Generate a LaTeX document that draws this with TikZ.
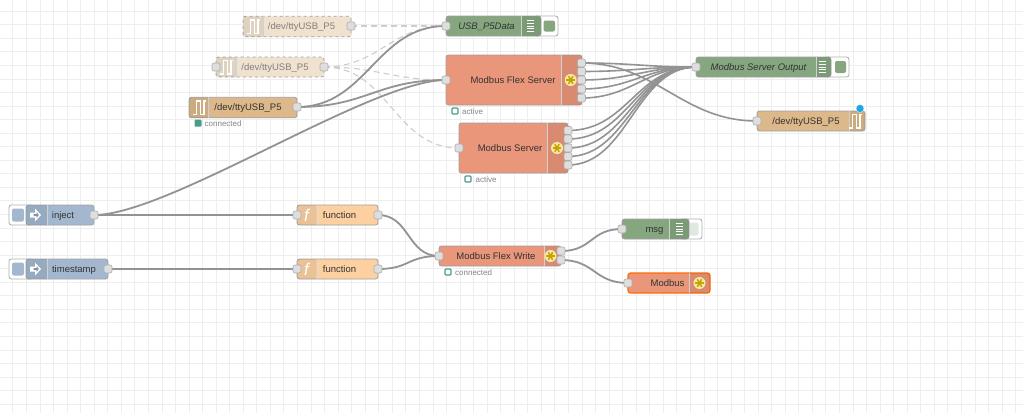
\documentclass[tikz,border=0pt]{standalone}
\usepackage{fontspec}
\setmainfont{Liberation Sans}
\usetikzlibrary{calc}
\pgfdeclarelayer{bg}
\pgfsetlayers{bg,main}
\definecolor{gridc}{HTML}{EEEEEE}
\definecolor{nodeborder}{HTML}{A0A0A0}
\definecolor{txt}{HTML}{333333}
\definecolor{serialc}{HTML}{DDB88A}
\definecolor{ghostc}{HTML}{F1E2CF}
\definecolor{debugc}{HTML}{85A67F}
\definecolor{modc}{HTML}{E9967A}
\definecolor{injc}{HTML}{A3B8CF}
\definecolor{funcc}{HTML}{FDD0A2}
\definecolor{portc}{HTML}{DEDEDE}
\definecolor{wirec}{HTML}{939393}
\definecolor{ghostwire}{HTML}{CDCDCD}
\definecolor{teal}{HTML}{4C9C8C}
\definecolor{gold}{HTML}{C9A400}
\definecolor{halo}{HTML}{F6E9A8}
\definecolor{dotc}{HTML}{1CA8E8}
\tikzset{
  x=1pt,y=-1pt,
  body/.style={draw=nodeborder,line width=.8pt,rounded corners=2.5pt,inner sep=0pt,outer sep=0pt},
  ghost/.style={body,dashed,fill=ghostc},
  lbl/.style={inner sep=0pt,anchor=base,yshift=-3.4pt,font=\fontsize{9.5}{12}\selectfont,text=txt},
  ilbl/.style={lbl,font=\fontsize{9.5}{12}\selectfont\itshape},
  ghostlbl/.style={lbl,text=black!50},
  stat/.style={inner sep=0pt,anchor=west,font=\fontsize{8}{10}\selectfont,text=black!48},
  portn/.style={draw=black!32,line width=.6pt,fill=portc,rounded corners=2pt,minimum size=8pt,inner sep=0pt,outer sep=0pt},
  wire/.style={draw=wirec,line width=1.8pt},
  gwire/.style={draw=ghostwire,line width=1.1pt,dash pattern=on 6pt off 4pt},
  btn/.style={draw=black!30,line width=.9pt,fill=white,rounded corners=2.5pt,inner sep=0pt,outer sep=0pt},
  bandfill/.style={fill=black,fill opacity=.07},
}
\newcommand{\bandright}[2]{\fill[bandfill] ([xshift=-#2pt]#1.north east) [rounded corners=2.5pt] -- (#1.north east) -- (#1.south east) [sharp corners] -- ([xshift=-#2pt]#1.south east) -- cycle;
  \draw[black!18,line width=.5pt] ([xshift=-#2pt]#1.north east) -- ([xshift=-#2pt]#1.south east);}
\newcommand{\bandleft}[2]{\fill[bandfill] ([xshift=#2pt]#1.north west) [rounded corners=2.5pt] -- (#1.north west) -- (#1.south west) [sharp corners] -- ([xshift=#2pt]#1.south west) -- cycle;
  \draw[black!18,line width=.5pt] ([xshift=#2pt]#1.north west) -- ([xshift=#2pt]#1.south west);}
\newcommand{\waveicon}[2]{\draw[white,line width=1.7pt,line join=miter] (#1-6.5,#2+7) -- (#1-2.5,#2+7) -- (#1-2.5,#2-6.5) -- (#1+1.5,#2-6.5) -- (#1+1.5,#2+7) -- (#1+5,#2+7) -- (#1+5,#2-6.5) -- (#1+7,#2-6.5);}
\newcommand{\listicon}[2]{\foreach \k in {-5.6,-2.8,0,2.8,5.6}{\draw[white,line width=.9pt] (#1-3.5,#2+\k) -- (#1+3.5,#2+\k);}}
\newcommand{\cogicon}[2]{\fill[halo] (#1,#2) circle (6pt);
  \foreach \k in {0,60,120}{\draw[gold,line width=1.5pt] ($(#1,#2)+(\k:4.4)$) -- ($(#1,#2)+(\k+180:4.4)$);}
  \fill[gold] (#1,#2) circle (2.2pt);}
\newcommand{\arrowicon}[2]{\fill[white] (#1-5,#2-2.5) -- (#1,#2-2.5) -- (#1,#2-6.5) -- (#1+6,#2) -- (#1,#2+6.5) -- (#1,#2+2.5) -- (#1-5,#2+2.5) -- cycle;
  \fill[injc!80!black] (#1-1.5,#2-1) -- (#1+1.5,#2-1) -- (#1+1.5,#2-3) -- (#1+3.8,#2) -- (#1+1.5,#2+3) -- (#1+1.5,#2+1) -- (#1-1.5,#2+1) -- cycle;}
\begin{document}
\begin{tikzpicture}
\useasboundingbox (0,0) rectangle (1023,413);
\begin{pgfonlayer}{bg}
  \fill[white] (0,0) rectangle (1023,413);
  \foreach \i in {0,...,75}{\draw[gridc,line width=.7pt] ({12.8+13.55*\i},0) -- ({12.8+13.55*\i},413);}
  \foreach \i in {0,...,30}{\draw[gridc,line width=.7pt] (0,{11.1+13.55*\i}) -- (1023,{11.1+13.55*\i});}
\end{pgfonlayer}

% ---- buttons behind nodes
\node[btn,minimum width=24pt,minimum height=20pt] (usbbtn) at (546,26) {};
\fill[debugc,rounded corners=2pt] (543.5,20.5) rectangle (555,31.5);
\node[btn,minimum width=24pt,minimum height=20pt] (outbtn) at (837,67) {};
\fill[debugc,rounded corners=2pt] (835,61) rectangle (846,73);
\node[btn,minimum width=22pt,minimum height=20pt] (msgbtn) at (691,229) {};
\fill[debugc!25,rounded corners=2pt] (689.5,222.5) rectangle (698.5,235.5);
\node[btn,minimum width=24pt,minimum height=20pt] (injbtn) at (21,215) {};
\fill[injc,rounded corners=2pt] (12,208.5) rectangle (24,221.5);
\node[btn,minimum width=24pt,minimum height=20pt] (tsbtn) at (21,269) {};
\fill[injc,rounded corners=2pt] (12,262.5) rectangle (24,275.5);

% ---- node bodies
\node[ghost,minimum width=108pt,minimum height=20.5pt] (g1) at (297,26.5) {};
\node[ghost,minimum width=108pt,minimum height=20pt] (g2) at (270,67) {};
\node[body,fill=serialc,minimum width=108pt,minimum height=20.5pt] (ser) at (243,107.5) {};
\node[body,fill=debugc,minimum width=95pt,minimum height=20pt] (usb) at (493.5,26) {};
\node[body,fill=modc,minimum width=136pt,minimum height=50pt] (flex) at (514,80) {};
\node[body,fill=modc,minimum width=109pt,minimum height=50pt] (srv) at (513.5,148) {};
\node[body,fill=debugc,minimum width=135pt,minimum height=20pt] (out) at (763.5,67) {};
\node[body,fill=serialc,minimum width=108pt,minimum height=20pt] (sout) at (811,121) {};
\node[body,fill=injc,minimum width=68pt,minimum height=20pt] (inj) at (60,215) {};
\node[body,fill=injc,minimum width=82pt,minimum height=20pt] (ts) at (67,269) {};
\node[body,fill=funcc,minimum width=81pt,minimum height=20pt] (f1) at (337.5,215) {};
\node[body,fill=funcc,minimum width=81pt,minimum height=20pt] (f2) at (337.5,269) {};
\node[body,fill=modc,minimum width=122pt,minimum height=20pt] (wr) at (500,256) {};
\node[body,fill=debugc,minimum width=67pt,minimum height=20pt] (msg) at (655.5,229) {};
\node[body,draw=orange!85!red,line width=1.2pt,fill=modc,minimum width=82pt,minimum height=20pt] (mb) at (669,283) {};

% ---- bands
\bandleft{g1}{20}\bandleft{g2}{20}\bandleft{ser}{19}
\bandright{usb}{20}\bandright{out}{15}\bandright{msg}{20}
\bandright{flex}{21}\bandright{srv}{21}\bandright{wr}{17}\bandright{mb}{21}
\bandright{sout}{16}
\bandleft{inj}{21}\bandleft{ts}{21}\bandleft{f1}{19}\bandleft{f2}{19}

% ---- icons
\waveicon{253}{26.5}\waveicon{226}{67}\waveicon{199}{107.5}\waveicon{855}{121}
\listicon{530.5}{26}\listicon{822}{67}\listicon{679}{229}
\cogicon{570.7}{80}\cogicon{557}{148}\cogicon{550.5}{256}\cogicon{699.5}{283}
\arrowicon{35}{215}\arrowicon{35}{269}
\node[inner sep=0pt,text=white,font=\fontsize{17}{17}\selectfont\itshape] (ficon1) at (306.5,215) {f};
\node[inner sep=0pt,text=white,font=\fontsize{17}{17}\selectfont\itshape] (ficon2) at (306.5,269) {f};

% ---- labels
\node[ghostlbl] (tg1) at (301.5,26.5) {/dev/ttyUSB\_P5};
\node[ghostlbl] (tg2) at (275,67) {/dev/ttyUSB\_P5};
\node[lbl] (tser) at (248,107.5) {/dev/ttyUSB\_P5};
\node[ilbl] (tusb) at (486.5,26) {USB\_P5Data};
\node[lbl] (tflex) at (513,80) {Modbus Flex Server};
\node[lbl] (tsrv) at (510,148) {Modbus Server};
\node[ilbl] (tout) at (758.5,67) {Modbus Server Output};
\node[lbl] (tsout) at (806,121) {/dev/ttyUSB\_P5};
\node[lbl] (tinj) at (63,215) {inject};
\node[lbl] (tts) at (74,269) {timestamp};
\node[lbl] (tf1) at (339.5,215) {function};
\node[lbl] (tf2) at (339.5,269) {function};
\node[lbl] (twr) at (496,256) {Modbus Flex Write};
\node[lbl] (tmsg) at (654.5,229) {msg};
\node[lbl] (tmb) at (667.5,283) {Modbus};

% ---- status
\fill[teal,rounded corners=1pt] (194.5,119.5) rectangle (201.5,126.5);
\node[stat] (sser) at (204.5,123.5) {connected};
\draw[teal,line width=1.1pt,fill=white,rounded corners=1pt] (452,108) rectangle (458,114);
\node[stat] (sflex) at (462,111.5) {active};
\draw[teal,line width=1.1pt,fill=white,rounded corners=1pt] (465,176) rectangle (471,182);
\node[stat] (ssrv) at (475.5,179.5) {active};
\draw[teal,line width=1.1pt,fill=white,rounded corners=1pt] (445,269) rectangle (451,275);
\node[stat] (swr) at (455,272.5) {connected};

% ---- deploy-pending dot
\node[circle,fill=dotc,draw=white,line width=.3pt,minimum size=8pt,inner sep=0pt] (dot) at (860,108.5) {};

% ---- ports
\node[portn] (pg1o) at (351,26) {};
\node[portn] (pg2i) at (216,67) {};
\node[portn] (pg2o) at (324,67) {};
\node[portn] (pso) at (297,107) {};
\node[portn] (pusb) at (446,26) {};
\node[portn] (pfi) at (446,80) {};
\node[portn] (pf1) at (581.5,63) {};
\node[portn] (pf2) at (581.5,71.5) {};
\node[portn] (pf3) at (581.5,80) {};
\node[portn] (pf4) at (581.5,89) {};
\node[portn] (pf5) at (581.5,98) {};
\node[portn] (psi) at (459,148) {};
\node[portn] (ps1) at (568,130.5) {};
\node[portn] (ps2) at (568,139) {};
\node[portn] (ps3) at (568,148) {};
\node[portn] (ps4) at (568,156.5) {};
\node[portn] (ps5) at (568,165) {};
\node[portn] (pout) at (696,67) {};
\node[portn] (psout) at (757,121) {};
\node[portn] (pinj) at (94,215) {};
\node[portn] (pts) at (108,269) {};
\node[portn] (pf1i) at (297,215) {};
\node[portn] (pf1o) at (378,215) {};
\node[portn] (pf2i) at (297,269) {};
\node[portn] (pf2o) at (378,269) {};
\node[portn] (pwi) at (439,256) {};
\node[portn] (pw1) at (561,251) {};
\node[portn] (pw2) at (561,260) {};
\node[portn] (pmsg) at (622,229) {};
\node[portn] (pmb) at (628,283) {};

% ---- connectors
\begin{pgfonlayer}{bg}
  \draw[gwire] (pg1o.center) -- (pusb.center);
  \draw[gwire] (pg2o.center) .. controls +(55,0) and +(-55,0) .. (pusb.center);
  \draw[gwire] (pg2o.center) .. controls +(55,0) and +(-55,0) .. (pfi.center);
  \draw[gwire] (pg2o.center) .. controls +(65,0) and +(-65,0) .. (psi.center);
  \draw[wire] (pso.center) .. controls +(70,0) and +(-70,0) .. (pusb.center);
  \draw[wire] (pso.center) .. controls +(70,0) and +(-70,0) .. (pfi.center);
  \draw[wire] (pinj.center) .. controls +(75,0) and +(-75,0) .. (pfi.center);
  \draw[wire] (pinj.center) -- (pf1i.center);
  \draw[wire] (pts.center) -- (pf2i.center);
  \foreach \p in {pf1,pf2,pf3,pf4,pf5}{\draw[wire,line width=1.6pt] (\p.center) .. controls +(50,0) and +(-50,0) .. (pout.center);}
  \foreach \p in {ps1,ps2,ps3,ps4,ps5}{\draw[wire,line width=1.6pt] (\p.center) .. controls +(60,0) and +(-60,0) .. (pout.center);}
  \draw[wire,line width=1.6pt] (pf1.center) .. controls +(75,0) and +(-75,0) .. (psout.center);
  \draw[wire] (pf1o.center) .. controls +(32,0) and +(-32,0) .. (pwi.center);
  \draw[wire] (pf2o.center) .. controls +(32,0) and +(-32,0) .. (pwi.center);
  \draw[wire] (pw1.center) .. controls +(32,0) and +(-32,0) .. (pmsg.center);
  \draw[wire] (pw2.center) .. controls +(34,0) and +(-34,0) .. (pmb.center);
\end{pgfonlayer}
\end{tikzpicture}
\end{document}
